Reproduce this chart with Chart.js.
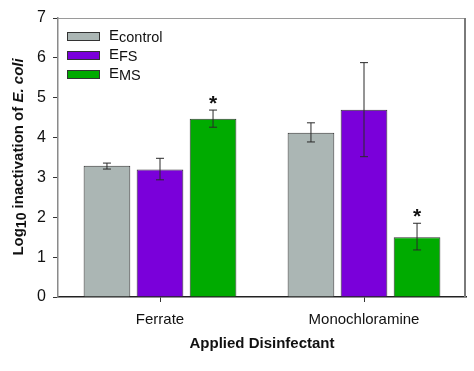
<!DOCTYPE html>
<html>
<head>
<meta charset="utf-8">
<script src="https://cdn.jsdelivr.net/npm/chart.js@4.4.1/dist/chart.umd.min.js"></script>
<style>
html,body{margin:0;padding:0;background:#fff;}
#wrap{width:474px;height:371px;}
</style>
</head>
<body>
<div id="wrap"><canvas id="c" width="474" height="371"></canvas></div>
<script>
const categories = ['Ferrate', 'Monochloramine'];
const yTicks = [0, 1, 2, 3, 4, 5, 6, 7];

const controlValues = [3.29, 4.12];
const controlErrUp = [0.07, 0.25];
const controlErrDown = [0.08, 0.23];

const fsValues = [3.20, 4.70];
const fsErrUp = [0.28, 1.18];
const fsErrDown = [0.26, 1.18];

const msValues = [4.47, 1.50];
const msErrUp = [0.22, 0.35];
const msErrDown = [0.21, 0.32];

const msSignificant = [true, true];

const seriesNames = [
  { main: 'E', sub: 'control' },
  { main: 'E', sub: 'FS' },
  { main: 'E', sub: 'MS' }
];

const FONT = "'Liberation Sans', Arial, sans-serif";

const errorBarPlugin = {
  id: 'errorBars',
  afterDatasetsDraw(chart) {
    const ctx = chart.ctx;
    const y = chart.scales.y;
    chart.data.datasets.forEach((ds, di) => {
      const meta = chart.getDatasetMeta(di);
      meta.data.forEach((bar, i) => {
        const v = ds.data[i];
        const yt = y.getPixelForValue(v + ds.errUp[i]);
        const yb = y.getPixelForValue(v - ds.errDown[i]);
        const x = bar.x;
        ctx.save();
        ctx.strokeStyle = '#2a2a2a';
        ctx.lineWidth = 1;
        ctx.beginPath();
        ctx.moveTo(x, yt); ctx.lineTo(x, yb);
        ctx.moveTo(x - 4, yt); ctx.lineTo(x + 4, yt);
        ctx.moveTo(x - 4, yb); ctx.lineTo(x + 4, yb);
        ctx.stroke();
        if (ds.sig && ds.sig[i]) {
          ctx.fillStyle = '#111';
          ctx.font = 'bold 21px ' + FONT;
          ctx.textAlign = 'center';
          ctx.textBaseline = 'alphabetic';
          ctx.fillText('*', x, yt - 0);
        }
        ctx.restore();
      });
    });
  }
};

const decorPlugin = {
  id: 'decor',
  afterDraw(chart) {
    const ctx = chart.ctx;
    const a = chart.chartArea;
    ctx.save();
    // top and right frame
    ctx.strokeStyle = '#9a9a9a';
    ctx.lineWidth = 1;
    ctx.beginPath();
    ctx.moveTo(a.left, a.top + 0.5); ctx.lineTo(a.right, a.top + 0.5);
    ctx.stroke();
    ctx.strokeStyle = '#7a7a7a';
    ctx.lineWidth = 2;
    ctx.beginPath();
    ctx.moveTo(a.right - 1, a.top); ctx.lineTo(a.right - 1, a.bottom);
    ctx.stroke();

    // legend
    const lx = 67, ly = [36, 55, 74];
    chart.data.datasets.forEach((ds, i) => {
      ctx.fillStyle = ds.backgroundColor;
      ctx.fillRect(lx, ly[i] - 4, 33, 8);
      ctx.strokeStyle = '#333';
      ctx.lineWidth = 1;
      ctx.strokeRect(lx + 0.5, ly[i] - 4 + 0.5, 32, 8);
      ctx.fillStyle = '#111';
      ctx.textAlign = 'left';
      ctx.textBaseline = 'alphabetic';
      ctx.font = '15px ' + FONT;
      ctx.fillText(seriesNames[i].main, 109, ly[i] + 3.5);
      const w = ctx.measureText(seriesNames[i].main).width;
      ctx.font = '14.5px ' + FONT;
      ctx.fillText(seriesNames[i].sub, 109 + w, ly[i] + 6);
    });

    // x axis title
    ctx.fillStyle = '#111';
    ctx.font = 'bold 15px ' + FONT;
    ctx.textAlign = 'center';
    ctx.textBaseline = 'middle';
    ctx.fillText('Applied Disinfectant', (a.left + a.right) / 2, 344);

    // y axis title (rotated, mixed styles)
    const parts = [
      { t: 'Log', f: 'bold 15px ' + FONT, dy: 0 },
      { t: '10', f: 'bold 14px ' + FONT, dy: 3 },
      { t: ' inactivation of ', f: 'bold 15px ' + FONT, dy: 0 },
      { t: 'E. coli', f: 'italic bold 15px ' + FONT, dy: 0 }
    ];
    let total = 0;
    parts.forEach(p => { ctx.font = p.f; p.w = ctx.measureText(p.t).width; total += p.w; });
    ctx.translate(23, 157);
    ctx.rotate(-Math.PI / 2);
    ctx.textAlign = 'left';
    ctx.textBaseline = 'alphabetic';
    let x = -total / 2;
    parts.forEach(p => {
      ctx.font = p.f;
      ctx.fillText(p.t, x, p.dy);
      x += p.w;
    });
    ctx.restore();
  }
};

new Chart(document.getElementById('c'), {
  type: 'bar',
  data: {
    labels: categories,
    datasets: [
      { label: 'E control', data: controlValues, errUp: controlErrUp, errDown: controlErrDown,
        backgroundColor: '#abb6b4', borderColor: '#333', borderWidth: 1 },
      { label: 'E FS', data: fsValues, errUp: fsErrUp, errDown: fsErrDown,
        backgroundColor: '#7a00da', borderColor: '#333', borderWidth: 1 },
      { label: 'E MS', data: msValues, errUp: msErrUp, errDown: msErrDown, sig: msSignificant,
        backgroundColor: '#00ab00', borderColor: '#333', borderWidth: 1 }
    ]
  },
  options: {
    responsive: false,
    animation: false,
    devicePixelRatio: 1,
    layout: { padding: { left: 0, right: 8, top: 18, bottom: 0 } },
    categoryPercentage: 0.78,
    barPercentage: 0.88,
    plugins: { legend: { display: false }, tooltip: { enabled: false } },
    scales: {
      x: {
        afterFit(s) { s.height = 74; },
        grid: { display: true, drawOnChartArea: false, drawTicks: true, tickLength: 5, offset: false, color: '#333' },
        border: { display: true, color: '#222', width: 1.5 },
        ticks: { color: '#111', font: { family: FONT, size: 15 }, padding: 9 }
      },
      y: {
        min: 0, max: 7,
        afterFit(s) { s.width = 58; },
        afterBuildTicks(s) { s.ticks = yTicks.map(v => ({ value: v })); },
        grid: { display: true, drawOnChartArea: false, drawTicks: true, tickLength: 5, color: '#333' },
        border: { display: true, color: '#8a8a8a', width: 1.5 },
        ticks: { color: '#111', font: { family: FONT, size: 16 }, padding: 7 }
      }
    }
  },
  plugins: [errorBarPlugin, decorPlugin]
});
</script>
</body>
</html>
